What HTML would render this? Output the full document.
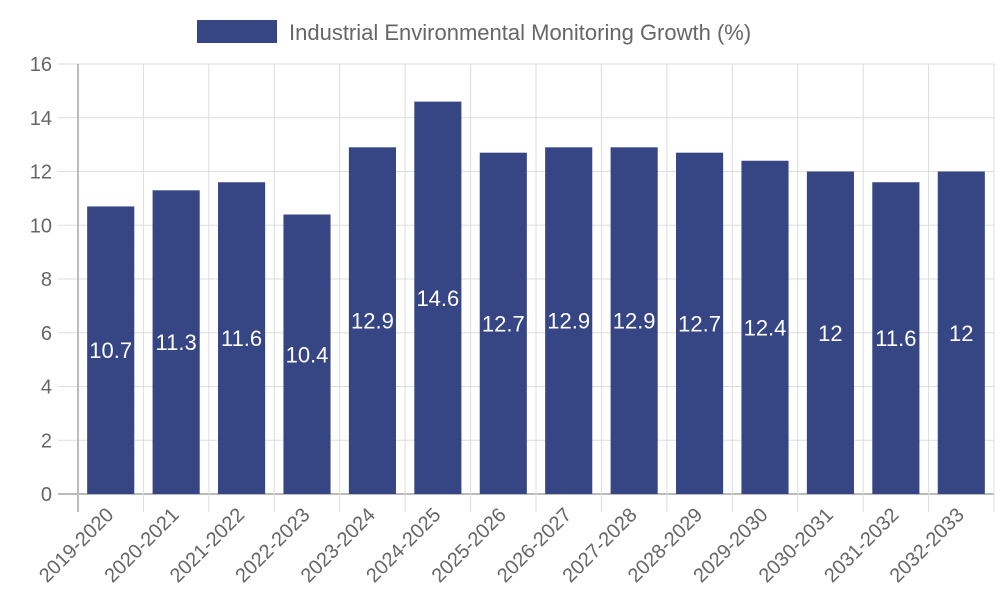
<!DOCTYPE html>
<html><head><meta charset="utf-8"><style>
body{margin:0;background:#fff;}
svg{display:block;font-family:"Liberation Sans",sans-serif;}
</style></head><body>
<svg id="chart" width="1000" height="600">
<rect x="197" y="20" width="80" height="23" fill="#364583"/>
<text x="289" y="40" font-size="22" fill="#666">Industrial Environmental Monitoring Growth (%)</text>
<g id="grid"></g><g id="bars"></g><g id="axes"></g>
</svg>
<script>
const categories=["2019-2020","2020-2021","2021-2022","2022-2023","2023-2024","2024-2025","2025-2026","2026-2027","2027-2028","2028-2029","2029-2030","2030-2031","2031-2032","2032-2033"];
const values=[10.7,11.3,11.6,10.4,12.9,14.6,12.7,12.9,12.9,12.7,12.4,12,11.6,12];
const yTicks=[0,2,4,6,8,10,12,14,16];
const NS="http://www.w3.org/2000/svg";
const L=78,R=994,T=64,B=494,yMax=16;
const bw=(R-L)/categories.length;
const xPos=i=>L+bw*i;
const yPos=v=>B-(B-T)*v/yMax;
function mk(tag,attrs,parent){const e=document.createElementNS(NS,tag);for(const k in attrs)e.setAttribute(k,attrs[k]);parent.appendChild(e);return e;}
const grid=document.getElementById('grid'),bars=document.getElementById('bars'),axes=document.getElementById('axes');
yTicks.forEach(t=>{
 const y=yPos(t);
 const g=mk('line',{x1:58,x2:R,y1:y,y2:y,stroke:t===0?'#bbb':'#ddd','stroke-width':t===0?2:1},grid);
 
 
 const tx=mk('text',{x:52,y:y+7,'text-anchor':'end','font-size':20,fill:'#666'},axes);
 tx.textContent=t;
 
 
});
for(let i=0;i<=categories.length;i++){
 const x=xPos(i);
 const g=mk('line',{x1:x,x2:x,y1:T,y2:512,stroke:i===0?'#bbb':'#ddd','stroke-width':i===0?2:1},grid);
 
 
}
categories.forEach((c,i)=>{
 const cx=xPos(i)+bw/2,w=bw*0.72,y=yPos(values[i]);
 const r=mk('rect',{x:cx-w/2,y:y,width:w,height:B-y,fill:'#364583'},bars);
 
 
 const v=mk('text',{x:cx,y:(y+B)/2+8,'text-anchor':'middle','font-size':22,fill:'#fff'},bars);
 v.textContent=values[i];
 
 
 const lx=cx+4,ly=516;
 const t=mk('text',{x:lx,y:ly,'text-anchor':'end','font-size':20,fill:'#666',transform:`rotate(-45 ${lx} ${ly})`},axes);
 t.textContent=c;
 
 
});
</script>
</body></html>
